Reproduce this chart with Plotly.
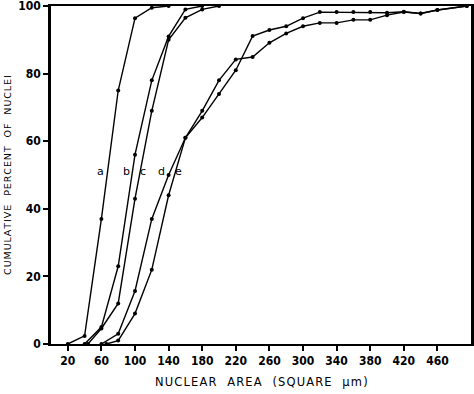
import plotly.graph_objects as go

# Nuclear area (square µm) and cumulative percent for curves a-e
a_x = [20, 40, 60, 80, 100, 120, 140]
a_y = [0, 2.4, 37, 75, 96.4, 99.5, 100]

b_x = [40, 60, 80, 100, 120, 140, 160, 180]
b_y = [0, 5, 23, 56, 78, 91, 99, 100]

c_x = [44, 60, 80, 100, 120, 140, 160, 180, 200]
c_y = [0, 4.6, 12, 43, 69, 90, 96.5, 99, 100]

d_x = [60, 80, 100, 120, 140, 160, 180, 200, 220, 240, 260, 280, 300, 320, 340, 360, 380, 400, 420, 440, 460, 495]
d_y = [0, 3, 15.7, 37, 50, 61, 69, 78, 84.2, 84.9, 89.1, 91.9, 94, 95, 95, 95.9, 95.9, 97.3, 98.2, 97.8, 98.8, 100]

e_x = [66, 80, 100, 120, 140, 160, 180, 200, 220, 240, 260, 280, 300, 320, 340, 360, 380, 400, 420, 440, 460, 495]
e_y = [0, 1, 9, 22, 44, 61, 67, 74, 81, 91.1, 92.9, 94, 96.4, 98.2, 98.2, 98.2, 98.2, 98, 98.3, 97.8, 98.8, 100]

curve_labels = ["a", "b", "c", "d", "e"]
label_x = [59, 90, 109, 132, 152]
label_y = [51, 51, 51, 51, 51]

x_ticks = [20, 60, 100, 140, 180, 220, 260, 300, 340, 380, 420, 460]
y_ticks = [0, 20, 40, 60, 80, 100]

x_title = "NUCLEAR AREA (SQUARE µm)"
y_title = "CUMULATIVE PERCENT OF NUCLEI"


def spaced(s):
    # mimic the wide letter spacing of the original typesetting
    return "\u200a".join(s.replace(" ", "\u00a0\u00a0"))


fig = go.Figure()
for xs, ys in [(a_x, a_y), (b_x, b_y), (c_x, c_y), (d_x, d_y), (e_x, e_y)]:
    fig.add_trace(go.Scatter(
        x=xs, y=ys, mode="lines+markers",
        line=dict(color="black", width=1.4),
        marker=dict(color="black", size=4),
        showlegend=False, cliponaxis=False,
    ))

for lx, ly, lt in zip(label_x, label_y, curve_labels):
    fig.add_annotation(
        x=lx, y=ly, text=lt, showarrow=False,
        font=dict(family="DejaVu Sans", size=11, color="black"),
    )

tickfont = dict(family="DejaVu Sans Condensed", size=12, color="black", weight="bold")
fig.update_xaxes(
    range=[0, 500], tickvals=x_ticks, ticktext=[str(v) for v in x_ticks],
    ticks="outside", ticklen=5, tickwidth=1.5, tickcolor="black",
    showline=True, linecolor="black", linewidth=2, mirror=True,
    showgrid=False, zeroline=False, tickfont=tickfont,
    ticklabeloverflow="allow", automargin=False,
)
fig.update_yaxes(
    range=[0, 100], tickvals=y_ticks,
    ticks="outside", ticklen=5, tickwidth=1.5, tickcolor="black",
    showline=True, linecolor="black", linewidth=2.5, mirror=True,
    showgrid=False, zeroline=False, tickfont=tickfont,
    ticklabeloverflow="allow", automargin=False,
)

fig.add_annotation(
    text=spaced(x_title), xref="paper", yref="paper",
    x=0.5, y=-0.113, yanchor="middle", showarrow=False,
    font=dict(family="DejaVu Sans", size=11.5, color="black"),
)
fig.add_annotation(
    text=spaced(y_title), xref="paper", yref="paper",
    x=-0.105, y=0.5, textangle=-90, showarrow=False, xanchor="center",
    font=dict(family="DejaVu Sans", size=9.5, color="black"),
)

fig.update_layout(
    width=474, height=394,
    margin=dict(l=51, r=3, t=6, b=50),
    paper_bgcolor="white", plot_bgcolor="white",
)

fig.write_html("out.html", config={"displayModeBar": False},
               post_script="document.body.style.margin='0';")
